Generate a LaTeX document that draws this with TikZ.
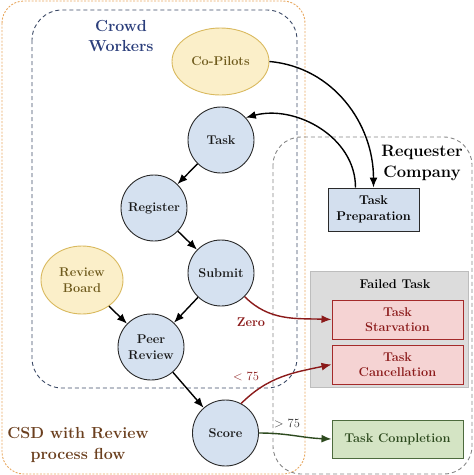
\documentclass[tikz,border=0pt]{standalone}
\usepackage{fontspec}
\usetikzlibrary{arrows.meta,shapes.geometric}
\definecolor{circfill}{HTML}{D5E1F0}
\definecolor{circdraw}{HTML}{2A2A2A}
\definecolor{elfill}{HTML}{FBEFC9}
\definecolor{eldraw}{HTML}{D9B95E}
\definecolor{eltext}{HTML}{6E5A1C}
\definecolor{prepfill}{HTML}{D3DFEE}
\definecolor{redfill}{HTML}{F5D3D3}
\definecolor{reddraw}{HTML}{A42A2A}
\definecolor{redtext}{HTML}{8B1A1A}
\definecolor{grnfill}{HTML}{D4E4C4}
\definecolor{grndraw}{HTML}{4D6B3D}
\definecolor{grntext}{HTML}{2D4A1E}
\definecolor{failfill}{HTML}{DCDCDC}
\definecolor{faildraw}{HTML}{BDBDBD}
\definecolor{crowdblue}{HTML}{2B3E7B}
\definecolor{crowddash}{HTML}{3C4A66}
\definecolor{csdorange}{HTML}{E8A860}
\definecolor{csdbrown}{HTML}{6B3F1E}
\definecolor{reqgray}{HTML}{858585}
\begin{document}
\begin{tikzpicture}[x=1pt,y=-1pt,
  bodyfont/.style={font=\fontsize{12.7}{15.5}\selectfont\bfseries},
  titlefont/.style={font=\fontsize{16}{20.5}\selectfont\bfseries},
  stepcircle/.style={circle,minimum size=66pt,inner sep=0pt,fill=circfill,draw=circdraw,line width=0.9pt,text=black!90,align=center,bodyfont},
  pilot/.style={ellipse,inner sep=0pt,fill=elfill,draw=eldraw,line width=0.9pt,text=eltext,align=center,bodyfont},
  prepbox/.style={rectangle,minimum width=91pt,minimum height=43pt,inner sep=0pt,fill=prepfill,draw=circdraw,line width=1pt,align=center,bodyfont},
  failbox/.style={rectangle,minimum width=131pt,minimum height=39pt,inner sep=0pt,fill=redfill,draw=reddraw,line width=1pt,text=redtext,align=center,bodyfont},
  donebox/.style={rectangle,minimum width=131pt,minimum height=38pt,inner sep=0pt,fill=grnfill,draw=grndraw,line width=1pt,text=grntext,align=center,bodyfont},
  flow/.style={line width=1.4pt,draw=black,-{Latex[length=10pt,width=8pt]}},
  redflow/.style={line width=1.4pt,draw=redtext,-{Latex[length=10pt,width=8pt]}},
  greenflow/.style={line width=1.4pt,draw=grntext,-{Latex[length=10pt,width=8pt]}},
]
\useasboundingbox (0,0) rectangle (474,475);
% containers
\draw[csdorange,line width=0.9pt,dash pattern=on 2pt off 1.5pt,rounded corners=22pt] (2,1) rectangle (305,474);
\draw[crowddash,line width=0.9pt,dash pattern=on 4pt off 3pt,rounded corners=30pt] (32,10) rectangle (297,388);
\draw[reqgray,line width=0.9pt,dash pattern=on 4pt off 3pt,rounded corners=28pt] (273,137) rectangle (472,474);
\node[fill=failfill,draw=faildraw,line width=0.8pt,minimum width=158pt,minimum height=116pt,inner sep=0pt] (failed) at (389,329) {};
\node[bodyfont] (failedlbl) at (395,284) {Failed Task};
% titles
\node[titlefont,text=crowdblue,align=center] (crowdlbl) at (121,36) {Crowd\\Workers};
\node[font=\fontsize{16.5}{20.5}\selectfont\bfseries,text=black,align=center] (reqlbl) at (422,163) {Requester\\Company};
\node[titlefont,text=csdbrown,align=center] (csdlbl) at (78,445) {CSD with Review\\process flow};
% nodes
\node[pilot,minimum width=97pt,minimum height=67pt] (cop) at (220.5,61.5) {Co-Pilots};
\node[pilot,minimum width=82pt,minimum height=68pt] (board) at (82,280) {Review\\Board};
\node[stepcircle] (task) at (221,140) {Task};
\node[stepcircle] (register) at (154,208) {Register};
\node[stepcircle] (submit) at (221,273) {Submit};
\node[stepcircle] (peer) at (151,347) {Peer\\Review};
\node[stepcircle] (score) at (225.5,433) {Score};
\node[prepbox] (prep) at (373.5,209.5) {Task\\Preparation};
\node[failbox] (starv) at (397.5,319.5) {Task\\Starvation};
\node[failbox] (cancel) at (397.5,364.5) {Task\\Cancellation};
\node[donebox] (done) at (397.5,439) {Task Completion};
% connectors
\draw[flow] (cop.east) to[out=-5,in=90] (prep.north);
\draw[flow] ([xshift=-18pt]prep.north) to[out=90,in=15] (task.42);
\draw[flow] (task) -- (register);
\draw[flow] (register) -- (submit);
\draw[flow] (submit) -- (peer);
\draw[flow] (board) -- (peer);
\draw[flow] (peer) -- (score);
\draw[redflow] (submit.-45) to[out=-45,in=178] (starv.west);
\draw[redflow] (score.62) to[out=45,in=192] (cancel.west);
\draw[greenflow] (score.east) to[out=0,in=178] (done.west);
% edge labels
\node[bodyfont,text=redtext] (zerolbl) at (251,322) {Zero};
\node[font=\fontsize{12.5}{15}\selectfont,text=redtext] (lt75) at (246,376) {< 75};
\node[font=\fontsize{12.5}{15}\selectfont,text=black!80] (gt75) at (287,423) {> 75};
\end{tikzpicture}
\end{document}
